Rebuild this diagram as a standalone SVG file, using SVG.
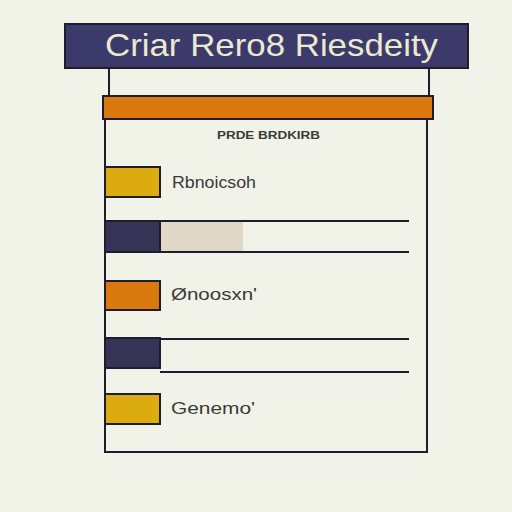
<svg xmlns="http://www.w3.org/2000/svg" width="512" height="512" viewBox="0 0 512 512">
<style>
.ln{stroke:#1e1d2e;stroke-width:2;fill:none}
.sq{stroke:#1e1d2e;stroke-width:2}
.lbl{font-family:"Liberation Sans",Arial,sans-serif;font-size:16px;fill:#3a3a3a}
</style>
<rect width="512" height="512" fill="#f1f3e8"/>
<g id="title">
<rect x="65" y="24" width="403" height="44" fill="#3c3a6a" stroke="#1e1d2e" stroke-width="2"/>
<text x="105" y="56" textLength="333" lengthAdjust="spacingAndGlyphs" font-family="Liberation Sans,Arial,sans-serif" font-size="32" fill="#ebe9cf">Criar Rero8 Riesdeity</text>
</g>
<g id="connectors">
<line class="ln" x1="109" y1="68" x2="109" y2="96"/>
<line class="ln" x1="429" y1="68" x2="429" y2="96"/>
</g>
<g id="header-bar">
<rect x="103" y="96" width="330" height="23" fill="#d9790f" stroke="#1e1d2e" stroke-width="2"/>
</g>
<g id="panel">
<path class="ln" d="M105 119 V452 H427 V119"/>
<text x="217" y="139" textLength="103" lengthAdjust="spacingAndGlyphs" font-family="Liberation Sans,Arial,sans-serif" font-size="11" font-weight="bold" fill="#3a3a3a">PRDE BRDKIRB</text>
</g>
<g id="row1">
<rect class="sq" x="105" y="167" width="55" height="30" fill="#dcab10"/>
<text class="lbl" x="172" y="188" textLength="84" lengthAdjust="spacingAndGlyphs">Rbnoicsoh</text>
</g>
<g id="row2">
<rect x="160" y="221" width="83" height="31" fill="#e0d7c7"/>
<rect class="sq" x="105" y="221" width="55" height="31" fill="#363456"/>
<line class="ln" x1="160" y1="221" x2="409" y2="221"/>
<line class="ln" x1="160" y1="252" x2="409" y2="252"/>
</g>
<g id="row3">
<rect class="sq" x="105" y="281" width="55" height="29" fill="#d9790f"/>
<text class="lbl" x="171" y="300" textLength="86" lengthAdjust="spacingAndGlyphs">Ønoosxn'</text>
</g>
<g id="row4">
<rect class="sq" x="105" y="338" width="55" height="30" fill="#363456"/>
<line class="ln" x1="160" y1="339" x2="409" y2="339"/>
<line class="ln" x1="160" y1="372" x2="409" y2="372"/>
</g>
<g id="row5">
<rect class="sq" x="105" y="394" width="55" height="30" fill="#dcab10"/>
<text class="lbl" x="171" y="414" textLength="84" lengthAdjust="spacingAndGlyphs">Genemo'</text>
</g>
</svg>
